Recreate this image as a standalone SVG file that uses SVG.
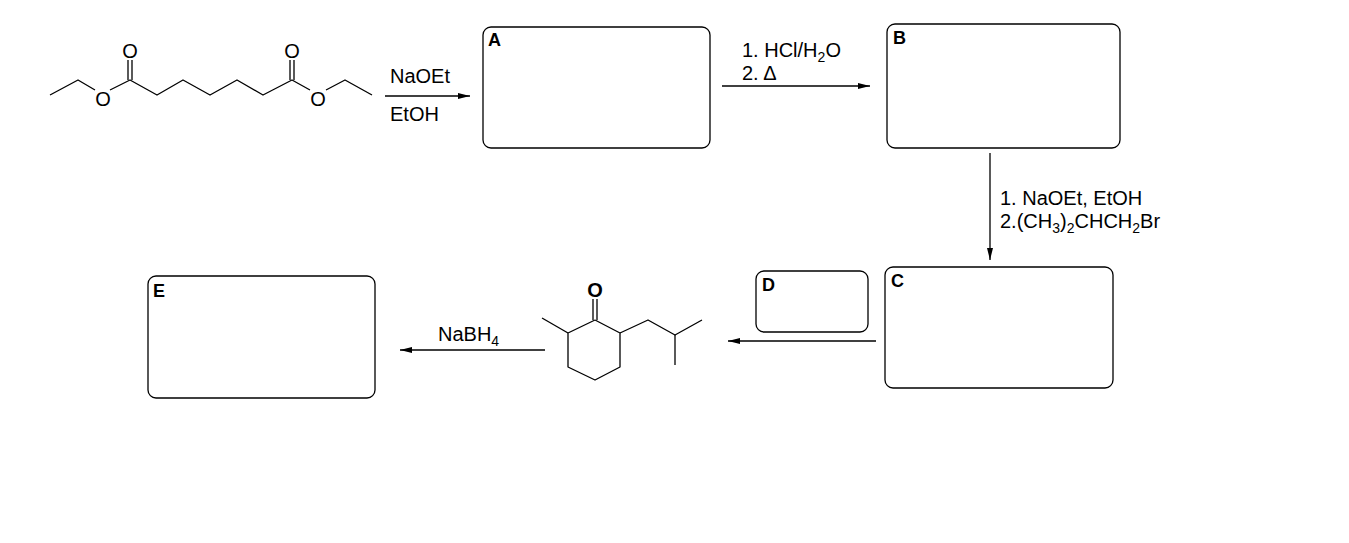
<svg xmlns="http://www.w3.org/2000/svg" width="1349" height="543" viewBox="0 0 1349 543">
<style>
.b{fill:none;stroke:#000;stroke-width:1.3}
.l{fill:none;stroke:#000;stroke-width:1.3;stroke-linejoin:round}
text{font-family:"Liberation Sans",Arial,sans-serif;font-size:20px;fill:#000}
.lab{font-weight:bold;font-size:18px}
.at{font-size:20px;text-anchor:middle}
.s{font-size:14px}
</style>
<defs><marker id="ar" markerWidth="12" markerHeight="8" refX="12" refY="4" orient="auto" markerUnits="userSpaceOnUse"><path d="M0,1 L12,4 L0,7 Z" fill="#000"/></marker></defs>
<rect width="1349" height="543" fill="#fff"/>
<g id="diester">
<polyline class="l" points="50,95 78,80 95,90"/>
<polyline class="l" points="110,90 130,80 157,95 183,80 210,95 237,80 263,95 292,80 310,90"/>
<polyline class="l" points="326,90 345,80 372,95"/>
<line class="b" x1="128" y1="80" x2="128" y2="60"/><line class="b" x1="132" y1="80" x2="132" y2="60"/>
<line class="b" x1="290" y1="80" x2="290" y2="60"/><line class="b" x1="294" y1="80" x2="294" y2="60"/>
<text class="at" x="103" y="106">O</text><text class="at" x="130" y="58">O</text>
<text class="at" x="292" y="58">O</text><text class="at" x="318" y="106">O</text>
</g>
<g id="A"><rect class="b" x="483" y="27" width="227" height="121" rx="8"/><text class="lab" x="488" y="46">A</text></g>
<g id="B"><rect class="b" x="887" y="24" width="233" height="124" rx="8"/><text class="lab" x="893" y="44">B</text></g>
<g id="C"><rect class="b" x="885" y="267" width="228" height="121" rx="8"/><text class="lab" x="891" y="287">C</text></g>
<g id="D"><rect class="b" x="756" y="271" width="112" height="61" rx="8"/><text class="lab" x="762" y="291">D</text></g>
<g id="E"><rect class="b" x="148" y="276" width="227" height="122" rx="8"/><text class="lab" x="153" y="297">E</text></g>
<g id="ketone">
<polyline class="l" points="595,320 620,333 620,367 595,380 568,367 568,333 595,320"/>
<line class="b" x1="593" y1="320" x2="593" y2="299"/><line class="b" x1="597" y1="320" x2="597" y2="299"/>
<text class="at" x="595" y="297" font-weight="bold">O</text>
<line class="b" x1="568" y1="333" x2="542" y2="318"/>
<polyline class="l" points="620,333 648,320 675,335 702,320"/>
<line class="b" x1="675" y1="335" x2="675" y2="365"/>
</g>
<g id="connectors">
<line class="b" x1="385" y1="96" x2="470" y2="96" marker-end="url(#ar)"/>
<line class="b" x1="722" y1="86" x2="870" y2="86" marker-end="url(#ar)"/>
<line class="b" x1="990" y1="153" x2="990" y2="260" marker-end="url(#ar)"/>
<line class="b" x1="876" y1="341" x2="728" y2="341" marker-end="url(#ar)"/>
<line class="b" x1="545" y1="350" x2="400" y2="350" marker-end="url(#ar)"/>
</g>
<g id="labels">
<text x="390" y="83">NaOEt</text><text x="390" y="121">EtOH</text>
<text x="742" y="57">1. HCl/H<tspan class="s" dy="5">2</tspan><tspan dy="-5">O</tspan></text>
<text x="742" y="80">2. Δ</text>
<text x="1000" y="205">1. NaOEt, EtOH</text>
<text x="1000" y="228">2.(CH<tspan class="s" dy="5">3</tspan><tspan dy="-5">)</tspan><tspan class="s" dy="5">2</tspan><tspan dy="-5">CHCH</tspan><tspan class="s" dy="5">2</tspan><tspan dy="-5">Br</tspan></text>
<text x="438" y="341">NaBH<tspan class="s" dy="5">4</tspan></text>
</g>
</svg>
